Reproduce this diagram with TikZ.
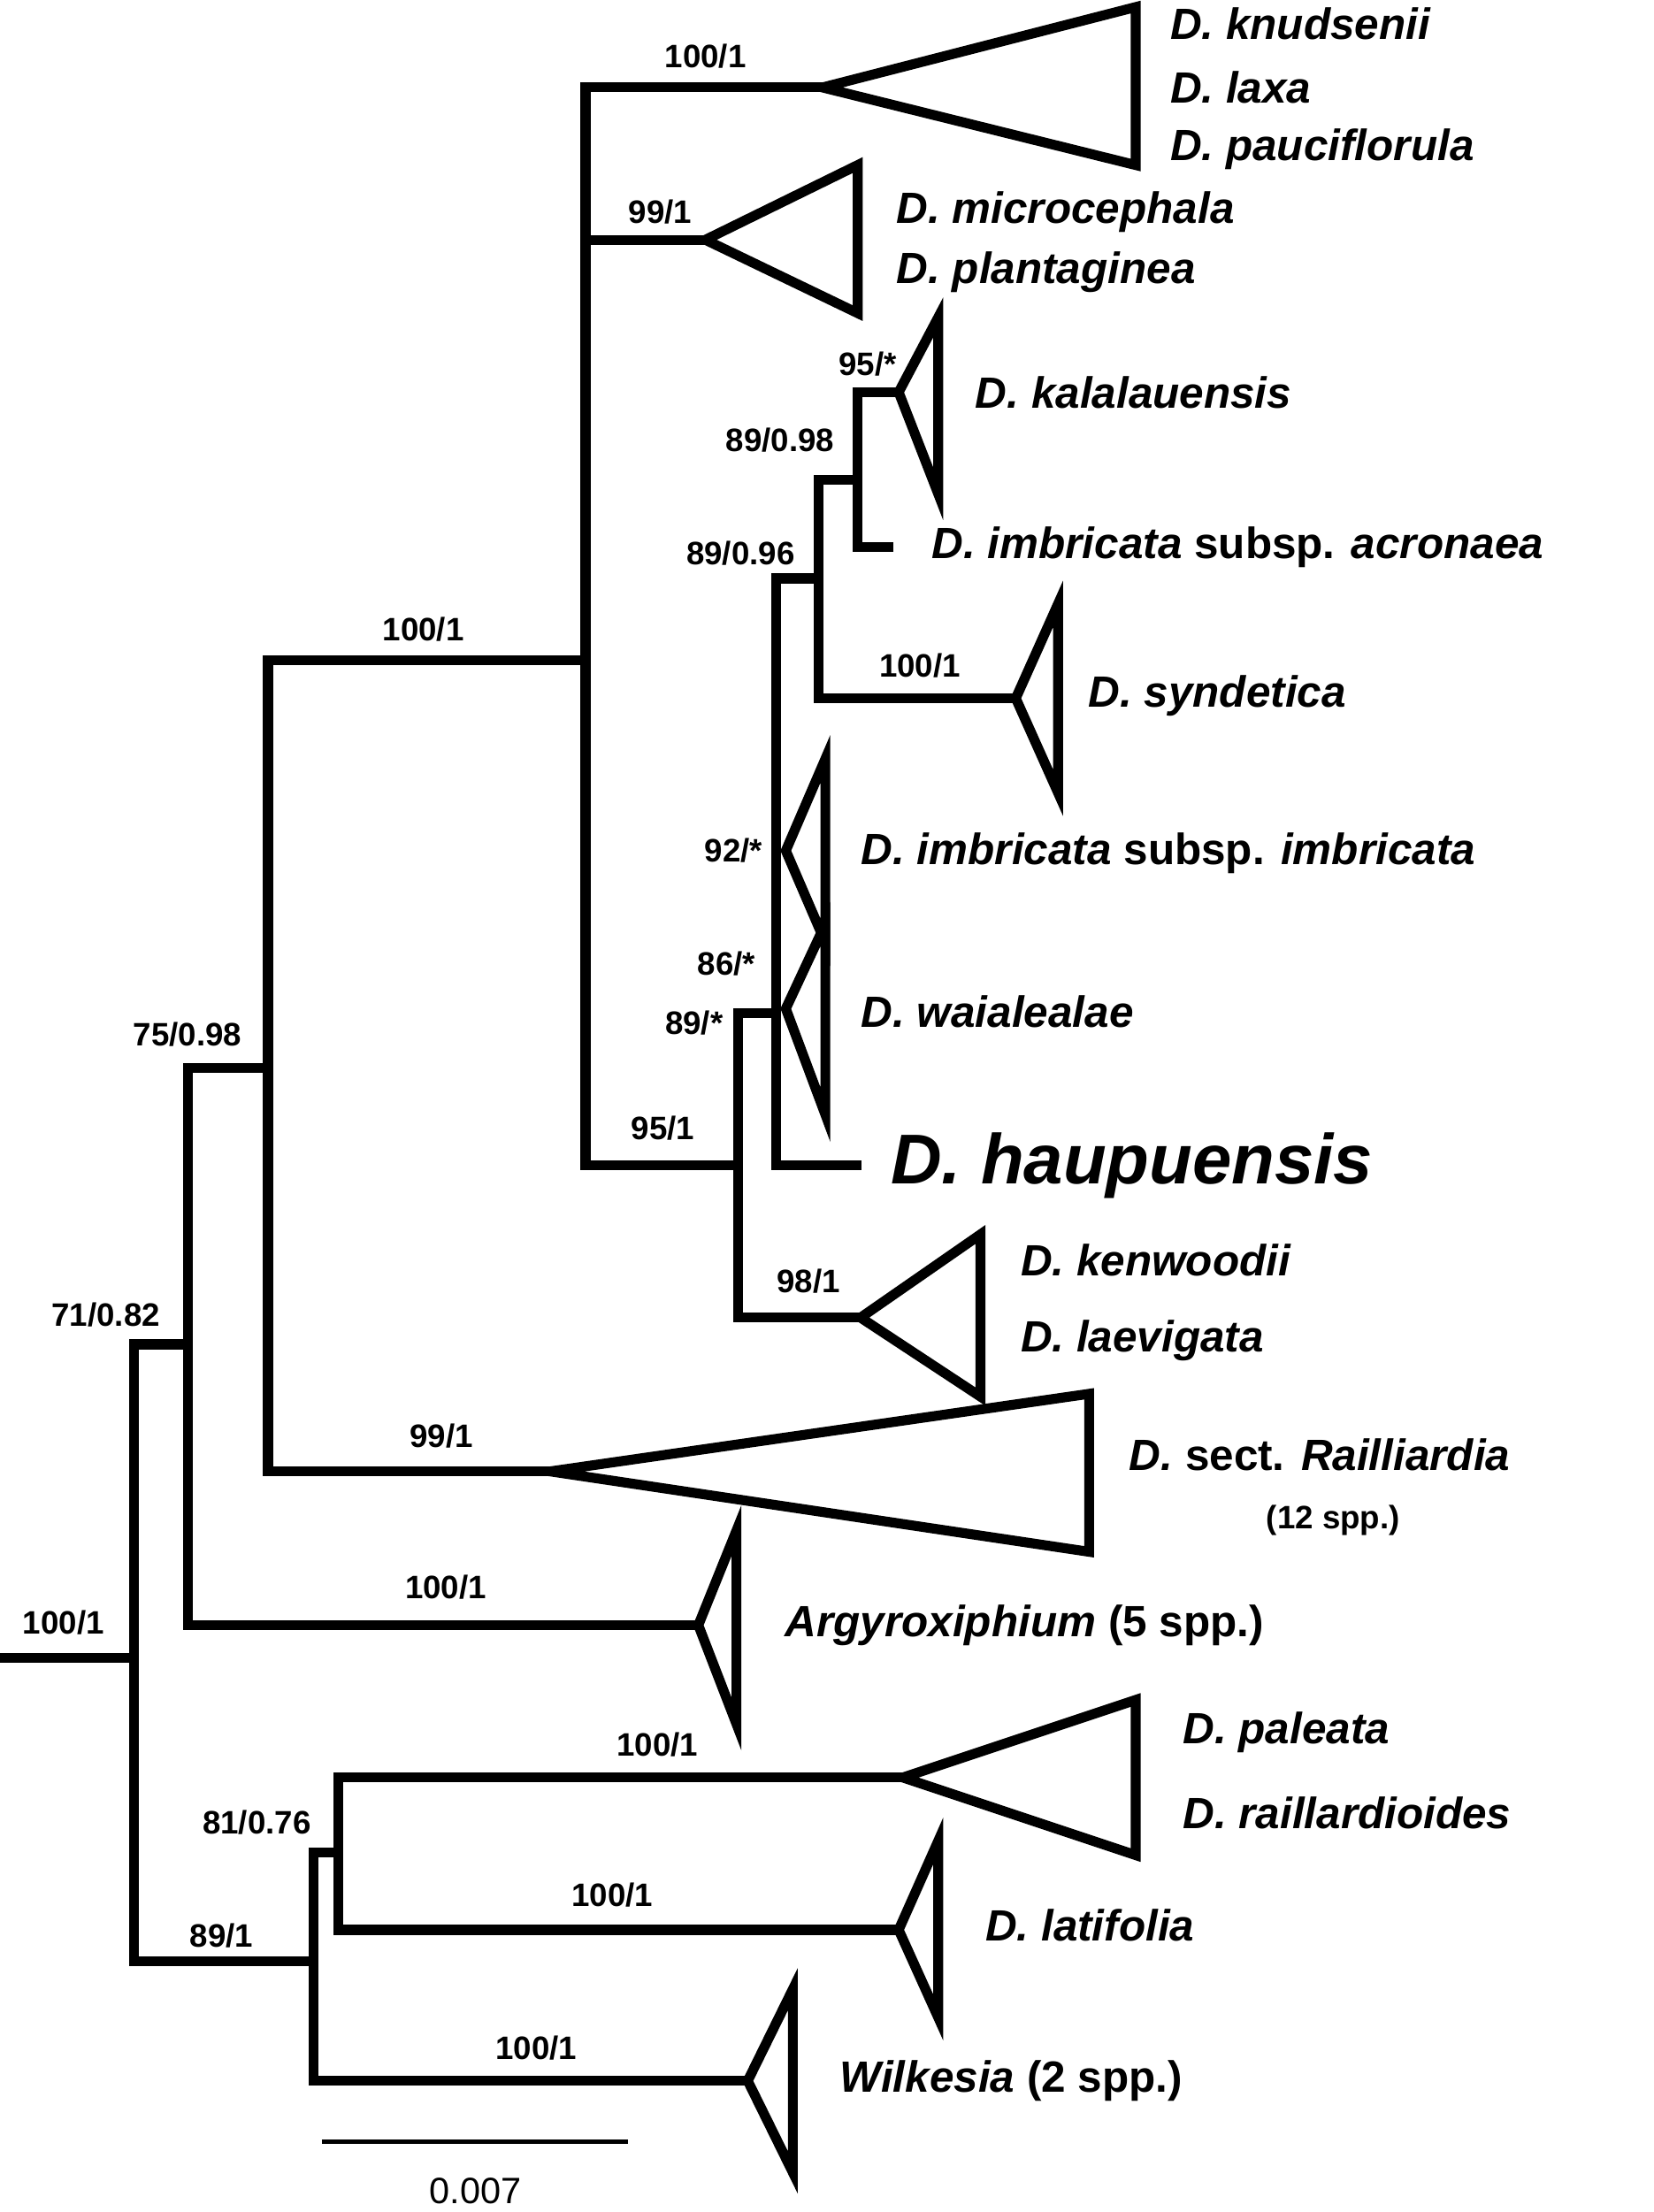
\documentclass[tikz,border=0pt]{standalone}
\usepackage{fontspec}
\setmainfont{Liberation Sans}
\begin{document}
\begin{tikzpicture}[x=1pt,y=-1pt,line width=7pt,line cap=rect,line join=miter,
 br/.style={draw=black},
 tri/.style={draw=black,line join=miter},
 nl/.style={font=\fontsize{23}{26}\selectfont\bfseries,inner sep=0pt},
 tx/.style={font=\fontsize{31}{34}\selectfont\bfseries\itshape,anchor=west,inner sep=0pt}]
\useasboundingbox (0,0) rectangle (1172,1568);
% backbone
\coordinate (r0) at (0,1175); \coordinate (r1) at (95,1175);
\draw (r0)--(r1);
\draw (95,953)--(95,1390);
\draw (95,953)--(133,953); \draw (133,757)--(133,1152);
\draw (133,757)--(190,757); \draw (190,468)--(190,1043);
\draw (190,468)--(415,468); \draw (415,62)--(415,826);
\draw (415,62)--(583,62); \draw[tri] (583,62)--(805,5)--(805,117)--cycle;
\draw (415,170)--(500,170); \draw[tri] (500,170)--(608,117)--(608,222)--cycle;
\draw (415,826)--(523,826); \draw (523,718)--(523,934);
\draw (523,718)--(550,718); \draw (550,410)--(550,826);
\draw (550,826)--(607,826);
\draw[tri] (557,603)--(585,538)--(585,668)--cycle;
\draw[tri] (557,715)--(585,655)--(585,790)--cycle;
\draw (550,410)--(580,410); \draw (580,340)--(580,495);
\draw (580,495)--(720,495); \draw[tri] (720,495)--(750,428)--(750,562)--cycle;
\draw (580,340)--(608,340); \draw (608,278)--(608,388);
\draw (608,388)--(630,388);
\draw (608,278)--(637,278); \draw[tri] (637,278)--(665,225)--(665,350)--cycle;
\draw (523,934)--(610,934); \draw[tri] (610,934)--(695,875)--(695,990)--cycle;
\draw (190,1043)--(390,1043); \draw[tri] (390,1043)--(772,988)--(772,1100)--cycle;
\draw (133,1152)--(495,1152); \draw[tri] (495,1152)--(522,1085)--(522,1222)--cycle;
\draw (95,1390)--(222,1390); \draw (222,1313)--(222,1475);
\draw (222,1313)--(240,1313); \draw (240,1260)--(240,1368);
\draw (240,1260)--(640,1260); \draw[tri] (640,1260)--(805,1205)--(805,1315)--cycle;
\draw (240,1368)--(637,1368); \draw[tri] (637,1368)--(665,1305)--(665,1430)--cycle;
\draw (222,1475)--(530,1475); \draw[tri] (530,1475)--(562,1410)--(562,1540)--cycle;
\draw[line width=3pt,line cap=butt] (228,1518)--(445,1518);
\node[inner sep=0pt,font=\fontsize{26}{28}\selectfont] (sc) at (337,1553) {0.007};
% node labels
\node[nl] (n1) at (45,1150) {100/1};
\node[nl] (n2) at (75,932) {71/0.82};
\node[nl] (n3) at (133,733) {75/0.98};
\node[nl] (n4) at (300,446) {100/1};
\node[nl] (n5) at (500,40) {100/1};
\node[nl] (n6) at (468,150) {99/1};
\node[nl] (n7) at (470,800) {95/1};
\node[nl] (n8) at (492,725) {89/*};
\node[nl] (n9) at (515,683) {86/*};
\node[nl] (n10) at (520,603) {92/*};
\node[nl] (n11) at (525,392) {89/0.96};
\node[nl] (n12) at (553,312) {89/0.98};
\node[nl] (n13) at (615,258) {95/*};
\node[nl] (n14) at (652,472) {100/1};
\node[nl] (n15) at (573,908) {98/1};
\node[nl] (n16) at (313,1018) {99/1};
\node[nl] (n17) at (316,1125) {100/1};
\node[nl] (n18) at (466,1237) {100/1};
\node[nl] (n19) at (182,1292) {81/0.76};
\node[nl] (n20) at (157,1372) {89/1};
\node[nl] (n21) at (434,1343) {100/1};
\node[nl] (n22) at (380,1452) {100/1};
% taxa
\node[tx] (t1) at (826,17) {D. knudsenii};
\node[tx] (t2) at (826,62) {D. laxa};
\node[tx] (t3) at (826,106) {D. pauciflorula};
\node[tx] (t4) at (632,150) {D. microcephala};
\node[tx] (t5) at (632,193) {D. plantaginea};
\node[tx] (t6) at (688,278) {D. kalalauensis};
\node[tx] (t7) at (657,388) {D. imbricata \upshape subsp. \itshape acronaea};
\node[tx] (t8) at (768,493) {D. syndetica};
\node[tx] (t9) at (607,605) {D. imbricata \upshape subsp. \itshape imbricata};
\node[tx] (t10) at (607,717) {D. waialealae};
\node[tx,font=\fontsize{50}{54}\selectfont\bfseries\itshape] (t11) at (628,826) {D. haupuensis};
\node[tx] (t12) at (720,893) {D. kenwoodii};
\node[tx] (t13) at (720,950) {D. laevigata};
\node[tx] (t14) at (797,1031) {D. \upshape sect. \itshape Railliardia};
\node[nl] (t15) at (945,1078) {(12 spp.)};
\node[tx] (t16) at (553,1152) {Argyroxiphium \upshape (5 spp.)};
\node[tx] (t17) at (835,1228) {D. paleata};
\node[tx] (t18) at (835,1285) {D. raillardioides};
\node[tx] (t19) at (695,1365) {D. latifolia};
\node[tx] (t20) at (592,1475) {Wilkesia \upshape (2 spp.)};
\end{tikzpicture}
\end{document}
